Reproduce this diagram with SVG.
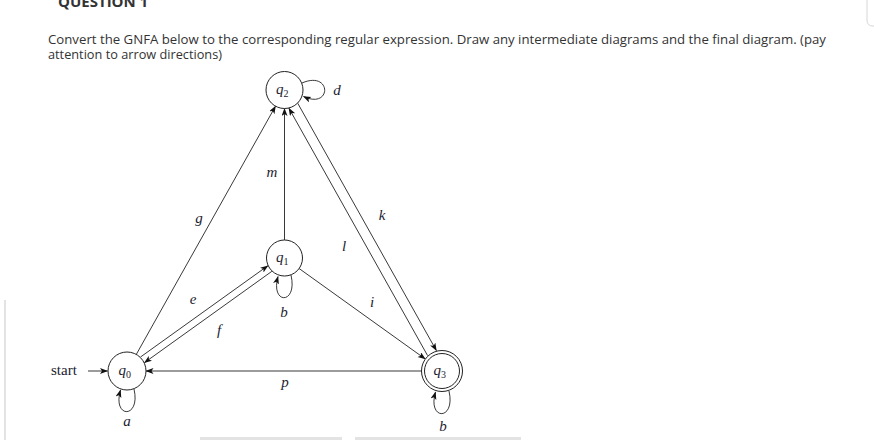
<svg xmlns="http://www.w3.org/2000/svg" width="874" height="440" viewBox="0 0 874 440">
<defs>
<marker id="arr" markerUnits="userSpaceOnUse" markerWidth="8" markerHeight="7" refX="7.5" refY="3" orient="auto">
<path d="M0,0 L8,3 L0,6 L2,3 z" fill="#111"/>
</marker>
<style>
.ui{font-family:"Open Sans","Liberation Sans",sans-serif;fill:#333}
.st{fill:#fff;stroke:#222;stroke-width:1}
.e{fill:none;stroke:#222;stroke-width:0.9;marker-end:url(#arr)}
.lb{font-family:"Liberation Serif","DejaVu Serif",serif;font-style:italic;font-size:15px;fill:#1c1c30;text-anchor:middle}
.nm{font-family:"Liberation Serif","DejaVu Serif",serif;font-style:italic;font-size:15px;fill:#1c1c30}
.sub{font-style:normal;font-size:10px}
.bar{fill:#e3e3e3}
</style>
</defs>
<rect width="874" height="440" fill="#fff"/>
<rect x="4" y="300" width="2" height="140" class="bar"/>
<path d="M867,-2 V20 Q867,26 873,26 H880" fill="none" stroke="#d6d6d6"/>
<rect x="200" y="437" width="142" height="3" class="bar"/>
<rect x="355" y="437" width="166" height="3" class="bar"/>
<text class="ui" x="58" y="7" font-size="15" font-weight="bold">QUESTION 1</text>
<text class="ui" x="48" y="44" font-size="12.5" textLength="778" lengthAdjust="spacingAndGlyphs">Convert the GNFA below to the corresponding regular expression. Draw any intermediate diagrams and the final diagram. (pay</text>
<text class="ui" x="48" y="58.5" font-size="12.5" textLength="174" lengthAdjust="spacingAndGlyphs">attention to arrow directions)</text>

<g id="connectors">
<line class="e" x1="88" y1="371" x2="107.5" y2="371"/>
<line class="e" x1="136.3" y1="354.4" x2="275.5" y2="106.2"/>
<line class="e" x1="284.5" y1="240" x2="284.5" y2="108.5"/>
<line class="e" x1="297.7" y1="103.2" x2="436.4" y2="350.6"/>
<line class="e" x1="427.6" y1="355.6" x2="288.9" y2="108.2"/>
<line class="e" x1="140.4" y1="357.1" x2="267.9" y2="265.7"/>
<line class="e" x1="271.9" y1="271.3" x2="144.4" y2="362.7"/>
<line class="e" x1="299.1" y1="268.5" x2="425.3" y2="359"/>
<line class="e" x1="421.5" y1="371" x2="146" y2="371"/>
<path class="e" d="M302,83 C332,70 332,110 303.5,96.5"/>
<path class="e" d="M291,275 C298,305 270,305 278,276.5"/>
<path class="e" d="M134,389 C141,419 112,419 120.5,390"/>
<path class="e" d="M449,391 C456,421 427,421 435.5,392"/>
<text class="lb" x="199" y="223">g</text>
<text class="lb" x="272" y="177">m</text>
<text class="lb" x="382" y="220">k</text>
<text class="lb" x="344" y="251">l</text>
<text class="lb" x="193" y="304">e</text>
<text class="lb" x="219" y="335">f</text>
<text class="lb" x="372" y="307">i</text>
<text class="lb" x="285" y="387">p</text>
<text class="lb" x="337" y="95">d</text>
<text class="lb" x="284" y="317">b</text>
<text class="lb" x="127" y="426">a</text>
<text class="lb" x="443" y="431">b</text>
<text x="51" y="375" font-family="Liberation Serif,DejaVu Serif,serif" font-size="15" fill="#1c1c30">start</text>
</g>

<g id="q2">
<circle class="st" cx="284.5" cy="90" r="18.5"/>
<text class="nm" x="276" y="94">q<tspan class="sub" dy="3">2</tspan></text>
</g>
<g id="q1">
<circle class="st" cx="284.5" cy="258" r="18"/>
<text class="nm" x="276" y="262">q<tspan class="sub" dy="3">1</tspan></text>
</g>
<g id="q0">
<circle class="st" cx="127" cy="371" r="19"/>
<text class="nm" x="118.5" y="375">q<tspan class="sub" dy="3">0</tspan></text>
</g>
<g id="q3">
<circle class="st" cx="442" cy="371" r="20.5"/>
<circle class="st" cx="442" cy="371" r="17.5"/>
<text class="nm" x="433.5" y="375">q<tspan class="sub" dy="3">3</tspan></text>
</g>
</svg>
